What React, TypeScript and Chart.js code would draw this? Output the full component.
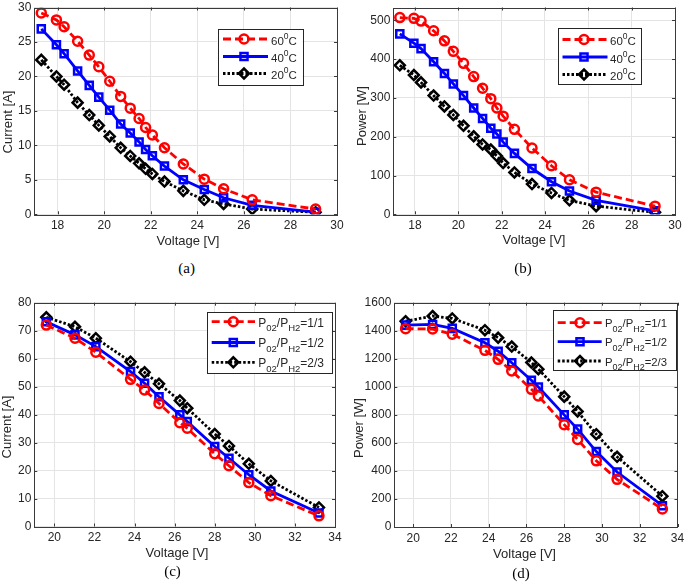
import { useEffect, useRef } from 'react';
import { Chart, registerables } from 'chart.js';

Chart.register(...registerables);

// ---------------- data ----------------
// (a), (b): temperature study
const tempVoltage = [17.3, 17.95, 18.28, 18.86, 19.36, 19.77, 20.24, 20.71, 21.12, 21.5, 21.78, 22.07, 22.59, 23.4, 24.3, 25.13, 26.36, 29.08];
const current60 = [29.2, 28.2, 27.2, 25.1, 23.1, 21.4, 19.3, 17.1, 15.4, 13.9, 12.6, 11.5, 9.65, 7.3, 5.1, 3.7, 2.1, 0.76];
const current40 = [26.9, 24.6, 23.3, 20.8, 18.7, 17.0, 15.1, 13.1, 11.8, 10.5, 9.4, 8.5, 7.0, 5.0, 3.6, 2.4, 1.3, 0.3];
const current20 = [22.4, 20.0, 18.8, 16.2, 14.4, 12.9, 11.3, 9.65, 8.46, 7.4, 6.6, 5.85, 4.75, 3.4, 2.1, 1.5, 0.76, 0.3];
const power60 = [507, 505, 498, 473, 447, 420, 389, 355, 325, 298, 274, 253, 219, 171, 125, 89, 57, 21];
const power40 = [465, 441, 427, 393, 363, 336, 306, 274, 247, 222, 207, 186, 157, 118, 84, 60, 36, 9];
const power20 = [384, 359, 340, 306, 278, 256, 228, 201, 180, 167, 150, 132, 108, 78, 55, 36, 21, 5];
const tempLabels = ['60^{0}C', '40^{0}C', '20^{0}C'];

// (c), (d): pressure-ratio study
const ratioVoltage = [19.6, 21.03, 22.07, 23.8, 24.5, 25.22, 26.26, 26.63, 28.0, 28.71, 29.7, 30.8, 33.2];
const currentR11 = [72.0, 67.3, 62.3, 52.6, 48.8, 44.0, 37.1, 35.1, 26.0, 21.7, 15.7, 11.0, 3.8];
const currentR12 = [73.2, 68.5, 64.3, 55.4, 51.2, 46.4, 39.9, 37.5, 28.6, 24.4, 18.5, 12.7, 4.8];
const currentR23 = [74.8, 71.4, 67.3, 58.9, 55.1, 51.0, 45.0, 42.3, 33.1, 28.8, 22.4, 16.3, 6.8];
const powerR11 = [1415, 1412, 1375, 1260, 1196, 1113, 982, 935, 730, 625, 472, 340, 128];
const powerR12 = [1440, 1445, 1417, 1314, 1254, 1172, 1047, 998, 800, 698, 538, 392, 152];
const powerR23 = [1468, 1505, 1488, 1404, 1350, 1287, 1174, 1126, 930, 824, 662, 501, 220];
const ratioLabels = ['P_{02}/P_{H2}=1/1', 'P_{02}/P_{H2}=1/2', 'P_{02}/P_{H2}=2/3'];

// tick labels
const xTicksTemp = [18, 20, 22, 24, 26, 28, 30];
const yTicksCurrentA = [0, 5, 10, 15, 20, 25, 30];
const yTicksPowerB = [0, 100, 200, 300, 400, 500];
const xTicksRatio = [20, 22, 24, 26, 28, 30, 32, 34];
const yTicksCurrentC = [0, 10, 20, 30, 40, 50, 60, 70, 80];
const yTicksPowerD = [0, 200, 400, 600, 800, 1000, 1200, 1400, 1600];

// ---------------- styles ----------------
const FONT = '"Liberation Sans", Arial, Helvetica, sans-serif';
const TEXT = '#262626';
const FRAME = '#3a3a3a';
const GRID = '#e4e4e4';

const SERIES_STYLE = [
  { color: '#ff0000', dash: [8, 4], width: 2.8, marker: 'circle', radius: 4.5 },
  { color: '#0000ff', dash: [] as number[], width: 2.8, marker: 'rect', radius: 5 },
  { color: '#000000', dash: [2.5, 2], width: 2.8, marker: 'rectRot', radius: 5 },
];

type Legend = {
  x: number; y: number; w: number; h: number; rows: number[];
  line: [number, number]; marker: number; text: number;
  font: number; small: number; baseOff: number; supUp: number; subDown: number;
};

type PanelCfg = {
  canvas: { left: number; top: number; width: number; height: number };
  area: { l: number; t: number; r: number; b: number };
  xRange: [number, number];
  yRange: [number, number];
  xTicks: number[];
  yTicks: number[];
  xs: number[];
  series: number[][];
  labels: string[];
  xTitle: { text: string; x: number; y: number };
  yTitle: { text: string; x: number; y: number };
  legend: Legend;
};

const panels: PanelCfg[] = [
  {
    canvas: { left: 0, top: 0, width: 360, height: 256 },
    area: { l: 34.3, t: 4.3, r: 337, b: 214.3 },
    xRange: [17, 30], yRange: [0, 30],
    xTicks: xTicksTemp, yTicks: yTicksCurrentA,
    xs: tempVoltage, series: [current60, current40, current20], labels: tempLabels,
    xTitle: { text: 'Voltage [V]', x: 188, y: 241 },
    yTitle: { text: 'Current [A]', x: 8, y: 122 },
    legend: { x: 217.5, y: 29.3, w: 85, h: 55.7, rows: [39, 56.5, 73.5], line: [223, 268], marker: 244, text: 271,
      font: 11.5, small: 8.5, baseOff: 5.5, supUp: 6, subDown: 4 },
  },
  {
    canvas: { left: 342, top: 0, width: 343, height: 256 },
    area: { l: 393.3, t: 4.3, r: 675, b: 214.3 },
    xRange: [17, 30], yRange: [0, 533],
    xTicks: xTicksTemp, yTicks: yTicksPowerB,
    xs: tempVoltage, series: [power60, power40, power20], labels: tempLabels,
    xTitle: { text: 'Voltage [V]', x: 534, y: 240 },
    yTitle: { text: 'Power [W]', x: 362.5, y: 116 },
    legend: { x: 557.5, y: 27.5, w: 83, h: 56, rows: [39.5, 57, 74.5], line: [562.5, 607.5], marker: 584, text: 610,
      font: 11.5, small: 8.5, baseOff: 5.5, supUp: 6, subDown: 4 },
  },
  {
    canvas: { left: 0, top: 288, width: 360, height: 280 },
    area: { l: 34.3, t: 302.7, r: 335, b: 526.5 },
    xRange: [19, 34], yRange: [0, 80],
    xTicks: xTicksRatio, yTicks: yTicksCurrentC,
    xs: ratioVoltage, series: [currentR11, currentR12, currentR23], labels: ratioLabels,
    xTitle: { text: 'Voltage [V]', x: 177, y: 553.3 },
    yTitle: { text: 'Current [A]', x: 7.8, y: 427 },
    legend: { x: 207.3, y: 312.3, w: 125.4, h: 61, rows: [321.7, 342.5, 362.3], line: [211.7, 255], marker: 233.3, text: 258.3,
      font: 12, small: 9.5, baseOff: 4.8, supUp: 6, subDown: 4.5 },
  },
  {
    canvas: { left: 342, top: 288, width: 343, height: 280 },
    area: { l: 394.3, t: 302.7, r: 678, b: 527 },
    xRange: [19, 34], yRange: [0, 1600],
    xTicks: xTicksRatio, yTicks: yTicksPowerD,
    xs: ratioVoltage, series: [powerR11, powerR12, powerR23], labels: ratioLabels,
    xTitle: { text: 'Voltage [V]', x: 524.5, y: 554 },
    yTitle: { text: 'Power [W]', x: 359.2, y: 428 },
    legend: { x: 553.3, y: 310, w: 123.4, h: 60, rows: [322.7, 341.7, 361], line: [557.7, 601.7], marker: 580, text: 605,
      font: 11.3, small: 9, baseOff: 4.6, supUp: 6, subDown: 4.3 },
  },
];

const captions = [
  { text: '(a)', x: 186.7, y: 267.5 },
  { text: '(b)', x: 523, y: 267.5 },
  { text: '(c)', x: 172.5, y: 571 },
  { text: '(d)', x: 521, y: 573 },
];

// ---------------- helpers ----------------
function parseRich(s: string) {
  const parts: { text: string; mode: number }[] = [];
  const re = /([_^])\{([^}]*)\}/g;
  let last = 0;
  let m: RegExpExecArray | null;
  while ((m = re.exec(s))) {
    if (m.index > last) parts.push({ text: s.slice(last, m.index), mode: 0 });
    parts.push({ text: m[2], mode: m[1] === '^' ? 1 : -1 });
    last = re.lastIndex;
  }
  if (last < s.length) parts.push({ text: s.slice(last), mode: 0 });
  return parts;
}

function drawMarker(ctx: CanvasRenderingContext2D, style: string, x: number, y: number, r: number) {
  ctx.beginPath();
  if (style === 'circle') {
    ctx.arc(x, y, r, 0, Math.PI * 2);
  } else if (style === 'rect') {
    const s = r * Math.SQRT1_2;
    ctx.rect(x - s, y - s, 2 * s, 2 * s);
  } else {
    ctx.moveTo(x - r, y);
    ctx.lineTo(x, y - r);
    ctx.lineTo(x + r, y);
    ctx.lineTo(x, y + r);
    ctx.closePath();
  }
  ctx.stroke();
}

function makePlugin(cfg: PanelCfg) {
  const ox = cfg.canvas.left;
  const oy = cfg.canvas.top;
  return {
    id: 'matlabLook',
    afterDraw(chart: any) {
      const ctx: CanvasRenderingContext2D = chart.ctx;
      const { left, top, right, bottom } = chart.chartArea;
      const xs = chart.scales.x;
      const ys = chart.scales.y;
      ctx.save();
      // inward tick marks
      ctx.strokeStyle = FRAME;
      ctx.lineWidth = 1;
      ctx.setLineDash([]);
      ctx.beginPath();
      for (const t of xs.ticks) {
        const px = Math.round(xs.getPixelForValue(t.value)) + 0.5;
        ctx.moveTo(px, bottom); ctx.lineTo(px, bottom - 3);
        ctx.moveTo(px, top); ctx.lineTo(px, top + 3);
      }
      for (const t of ys.ticks) {
        const py = Math.round(ys.getPixelForValue(t.value)) + 0.5;
        ctx.moveTo(left, py); ctx.lineTo(left + 3, py);
        ctx.moveTo(right, py); ctx.lineTo(right - 3, py);
      }
      ctx.stroke();
      // box frame
      ctx.strokeRect(Math.round(left) + 0.5, Math.round(top) + 0.5, Math.round(right - left), Math.round(bottom - top));

      // legend
      const L = cfg.legend;
      ctx.fillStyle = '#ffffff';
      ctx.fillRect(L.x - ox, L.y - oy, L.w, L.h);
      ctx.strokeStyle = TEXT;
      ctx.lineWidth = 1;
      ctx.strokeRect(Math.round(L.x - ox) + 0.5, Math.round(L.y - oy) + 0.5, Math.round(L.w), Math.round(L.h));
      cfg.labels.forEach((lab, i) => {
        const st = SERIES_STYLE[i];
        const y = L.rows[i] - oy;
        ctx.save();
        ctx.strokeStyle = st.color;
        ctx.lineWidth = st.width;
        ctx.setLineDash(st.dash);
        ctx.beginPath();
        ctx.moveTo(L.line[0] - ox, y);
        ctx.lineTo(L.line[1] - ox, y);
        ctx.stroke();
        ctx.setLineDash([]);
        ctx.lineWidth = 2.5;
        drawMarker(ctx, st.marker, L.marker - ox, y, st.radius);
        ctx.restore();
        let x = L.text - ox;
        const base = y + L.baseOff;
        ctx.fillStyle = TEXT;
        ctx.textAlign = 'left';
        ctx.textBaseline = 'alphabetic';
        for (const part of parseRich(lab)) {
          const size = part.mode === 0 ? L.font : L.small;
          ctx.font = `${size}px ${FONT}`;
          const dy = part.mode === 1 ? -L.supUp : part.mode === -1 ? L.subDown : 0;
          ctx.fillText(part.text, x, base + dy);
          x += ctx.measureText(part.text).width;
        }
      });

      // axis titles
      ctx.fillStyle = TEXT;
      ctx.font = `13px ${FONT}`;
      ctx.textAlign = 'center';
      ctx.textBaseline = 'middle';
      ctx.fillText(cfg.xTitle.text, cfg.xTitle.x - ox, cfg.xTitle.y - oy);
      ctx.translate(cfg.yTitle.x - ox, cfg.yTitle.y - oy);
      ctx.rotate(-Math.PI / 2);
      ctx.fillText(cfg.yTitle.text, 0, 0);
      ctx.restore();
    },
  };
}

function PanelChart({ cfg }: { cfg: PanelCfg }) {
  const ref = useRef<HTMLCanvasElement>(null);
  useEffect(() => {
    if (!ref.current) return;
    const c = cfg.canvas;
    const a = cfg.area;
    const datasets = cfg.series.map((ys, i) => {
      const st = SERIES_STYLE[i];
      return {
        label: cfg.labels[i],
        data: cfg.xs.map((x, j) => ({ x, y: ys[j] })),
        borderColor: st.color,
        borderWidth: st.width,
        borderDash: st.dash,
        borderCapStyle: 'butt' as const,
        pointStyle: st.marker as any,
        pointRadius: st.radius,
        pointBorderWidth: 2.5,
        pointBorderColor: st.color,
        pointBackgroundColor: 'rgba(0,0,0,0)',
        fill: false,
        tension: 0,
      };
    });
    const tickFont = { family: FONT, size: 12 };
    const chart = new Chart(ref.current, {
      type: 'line',
      data: { datasets },
      options: {
        responsive: false,
        animation: false,
        events: [],
        layout: { padding: { left: 0, top: a.t - c.top, right: c.left + c.width - a.r, bottom: 0 } },
        plugins: { legend: { display: false }, tooltip: { enabled: false } },
        scales: {
          x: {
            type: 'linear',
            min: cfg.xRange[0],
            max: cfg.xRange[1],
            afterBuildTicks: (s: any) => { s.ticks = cfg.xTicks.map((v) => ({ value: v })); },
            afterFit: (s: any) => { s.height = c.top + c.height - a.b; s.paddingLeft = 0; s.paddingRight = 0; },
            grid: { color: GRID, lineWidth: 1, drawTicks: false },
            border: { display: false },
            ticks: { font: tickFont, color: TEXT, padding: 4.2, autoSkip: false, maxRotation: 0, minRotation: 0, callback: (v: any) => String(v) },
          },
          y: {
            type: 'linear',
            min: cfg.yRange[0],
            max: cfg.yRange[1],
            afterBuildTicks: (s: any) => { s.ticks = cfg.yTicks.map((v) => ({ value: v })); },
            afterFit: (s: any) => { s.width = a.l - c.left; s.paddingTop = 0; s.paddingBottom = 0; },
            grid: { color: GRID, lineWidth: 1, drawTicks: false },
            border: { display: false },
            ticks: { font: tickFont, color: TEXT, padding: 3, autoSkip: false, callback: (v: any) => String(v) },
          },
        },
      },
      plugins: [makePlugin(cfg)],
    } as any);
    return () => chart.destroy();
  }, [cfg]);
  const c = cfg.canvas;
  return (
    <canvas
      ref={ref}
      width={c.width}
      height={c.height}
      style={{ position: 'absolute', left: c.left, top: c.top, width: c.width, height: c.height, display: 'block' }}
    />
  );
}

export default function App() {
  return (
    <div style={{ position: 'absolute', left: 0, top: 0, width: 685, height: 582, background: '#ffffff', overflow: 'hidden' }}>
      {panels.map((p, i) => (
        <PanelChart key={i} cfg={p} />
      ))}
      {captions.map((cap) => (
        <div
          key={cap.text}
          style={{
            position: 'absolute',
            left: cap.x,
            top: cap.y,
            transform: 'translate(-50%, -50%)',
            fontFamily: '"Liberation Serif", "Times New Roman", serif',
            fontSize: 15,
            lineHeight: 1,
            color: '#000',
            whiteSpace: 'nowrap',
          }}
        >
          {cap.text}
        </div>
      ))}
    </div>
  );
}
